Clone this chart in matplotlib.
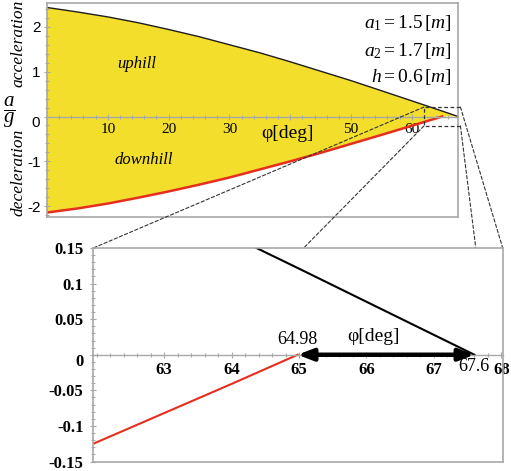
import numpy as np
import matplotlib
matplotlib.use("Agg")
import matplotlib.pyplot as plt
from matplotlib.patches import ConnectionPatch
from matplotlib.ticker import MultipleLocator

plt.rcParams['mathtext.fontset'] = 'custom'
plt.rcParams['mathtext.it'] = 'Liberation Serif:italic'
plt.rcParams['mathtext.rm'] = 'Liberation Serif'
plt.rcParams['mathtext.bf'] = 'Liberation Serif:bold'

# values (a/g against phi in degrees)
phi_up = [0, 5, 10, 15, 20, 25, 30, 35, 40, 45, 50, 55, 60, 62, 64, 65, 67.6]
acc_up = [2.43, 2.33, 2.22, 2.09, 1.94, 1.78, 1.60, 1.42, 1.22, 1.01, 0.80,
          0.575, 0.349, 0.258, 0.167, 0.121, 0.0]
phi_down = [0, 5, 10, 15, 20, 25, 30, 35, 40, 45, 50, 55, 60, 62, 64, 64.98]
acc_down = [-2.14, -2.05, -1.94, -1.81, -1.67, -1.52, -1.36, -1.18, -1.00,
            -0.81, -0.61, -0.41, -0.206, -0.123, -0.041, 0.0]

top_xticks = [10, 20, 30, 40, 50, 60]
top_xlabels = ['10', '20', '30', '', '50', '60']
top_yticks = [-2, -1, 0, 1, 2]
bot_xticks = [63, 64, 65, 66, 67, 68]
bot_yticks = [-0.15, -0.1, -0.05, 0, 0.05, 0.1, 0.15]
zoom_x = (62, 68)
zoom_y = (-0.21, 0.21)
params = [r'$a_1 = \mathit{1.5}\,[m]$', r'$a_2 = \mathit{1.7}\,[m]$', r'$h = \mathit{0.6}\,[m]$']

gray = '#a8a8a8'
yellow = '#f4de2c'
red = '#e62e1e'
serif = 'Liberation Serif'

W, H = 511, 471
fig = plt.figure(figsize=(W / 100, H / 100), dpi=100)
ax1 = fig.add_axes([47 / W, 1 - 217 / H, (458 - 47) / W, (217 - 3) / H])
ax2 = fig.add_axes([93.3 / W, 1 - 461.5 / H, (502.7 - 93.3) / W, (461.5 - 248) / H])
ax1.set_zorder(0)
ax2.set_zorder(2)


def style_axes(ax):
    for s in ['left', 'right', 'top']:
        ax.spines[s].set_color(gray)
        ax.spines[s].set_linewidth(1.2)
    ax.spines['bottom'].set_position(('data', 0))
    ax.spines['bottom'].set_color(gray)
    ax.spines['bottom'].set_linewidth(1.0)
    ax.plot([0, 1], [0, 0], transform=ax.transAxes, color=gray, lw=1.2,
            clip_on=False, zorder=5)
    ax.tick_params(which='both', direction='inout', color=gray, width=0.8)
    ax.tick_params(which='major', length=4)
    ax.tick_params(which='minor', length=2.5)


# ---- top chart
ax1.fill(np.concatenate([phi_up, phi_down[::-1]]),
         np.concatenate([acc_up, acc_down[::-1]]), color=yellow, lw=0)
ax1.plot(phi_up, acc_up, color='#1e1e1e', lw=1.0)
ax1.plot(phi_down, acc_down, color=red, lw=1.8)
ax1.set_xlim(0, 67.6)
ax1.set_ylim(-2.24, 2.53)
style_axes(ax1)
ax1.set_xticks(top_xticks, top_xlabels)
ax1.xaxis.set_minor_locator(MultipleLocator(2))
ax1.set_yticks(top_yticks, ['' if t == 0 else str(t) for t in top_yticks])
ax1.yaxis.set_minor_locator(MultipleLocator(0.2))
ax1.tick_params(axis='x', labelsize=11, pad=3)
ax1.tick_params(axis='y', labelsize=11, pad=2.5)
for lab in ax1.get_xticklabels():
    lab.set_family(serif)
for lab in ax1.get_yticklabels():
    lab.set_family('Liberation Sans')
ax1.annotate('0', xy=(0, 0), xycoords=('axes fraction', 'data'), xytext=(-5, -5),
             textcoords='offset points', ha='right', va='center',
             family='Liberation Sans', fontsize=11)

ax1.text(14.8, 1.18, 'uphill', family=serif, style='italic', fontsize=12,
         ha='center', va='center')
ax1.text(15.9, -0.98, 'downhill', family=serif, style='italic', fontsize=12,
         ha='center', va='center')
ax1.text(39.5, -0.38, 'φ[deg]', family=serif, fontsize=14, ha='center', va='center')
for txt, y in zip(params, [2.09, 1.47, 0.87]):
    ax1.text(66.6, y, txt, fontsize=14, ha='right', va='center')

fig.text(18 / W, 1 - 43 / H, 'acceleration', rotation=90, family=serif,
         style='italic', fontsize=12.5, ha='center', va='center')
fig.text(18 / W, 1 - 172 / H, 'deceleration', rotation=90, family=serif,
         style='italic', fontsize=12.5, ha='center', va='center')
fig.text(9 / W, 1 - 112 / H, r'$\dfrac{a}{g}$', fontsize=15, ha='center', va='center')

# dashed zoom box
ax1.plot([zoom_x[1], zoom_x[0], zoom_x[0], zoom_x[1]],
         [zoom_y[1], zoom_y[1], zoom_y[0], zoom_y[0]],
         color='#333333', lw=0.9, ls=(0, (3, 2)), clip_on=False, zorder=6)

# ---- bottom chart (zoom)
ax2.set_facecolor('white')
ax2.plot(phi_up, acc_up, color='black', lw=1.5)
ax2.plot(phi_down, acc_down, color=red, lw=1.5)
ax2.set_xlim(61.95, 68.02)
ax2.set_ylim(-0.15, 0.15)
style_axes(ax2)
ax2.set_xticks(bot_xticks, [str(t) for t in bot_xticks])
ax2.xaxis.set_minor_locator(MultipleLocator(0.2))
ax2.set_yticks(bot_yticks, ['' if t == 0 else f'{t:g}' for t in bot_yticks])
ax2.yaxis.set_minor_locator(MultipleLocator(0.01))
ax2.tick_params(axis='x', labelsize=12, pad=3)
ax2.tick_params(axis='y', labelsize=12, pad=5)
for lab in ax2.get_xticklabels() + ax2.get_yticklabels():
    lab.set_family(serif)
    lab.set_weight('bold')
ax2.annotate('0', xy=(0, 0), xycoords=('axes fraction', 'data'), xytext=(-7, -5),
             textcoords='offset points', ha='right', va='center',
             family=serif, weight='bold', fontsize=12)

ax2.annotate('', xy=(phi_down[-1], 0), xytext=(phi_up[-1], 0),
             arrowprops=dict(arrowstyle='<|-|>,head_length=0.9,head_width=0.35',
                             lw=3.2, color='black', shrinkA=0, shrinkB=0),
             zorder=7)
ax2.text(phi_down[-1], 0.021, '64.98', family=serif, fontsize=13,
         ha='center', va='center')
ax2.text(phi_up[-1], -0.0167, '67.6', family=serif, fontsize=13,
         ha='center', va='center', zorder=8)
ax2.text(66.1, 0.025, 'φ[deg]', family=serif, fontsize=14, ha='center', va='center')

# lines from the zoom box to the bottom chart
for xa, ya, xb, yb in [(zoom_x[0], zoom_y[1], 0, 1), (zoom_x[0], zoom_y[0], 0, 0),
                       (zoom_x[1], zoom_y[1], 1, 1), (zoom_x[1], zoom_y[0], 1, 0)]:
    con = ConnectionPatch(xyA=(xa, ya), coordsA=ax1.transData,
                          xyB=(xb, yb), coordsB=ax2.transAxes,
                          color='#333333', lw=0.8, ls=(0, (3, 2)))
    con.set_zorder(1)
    fig.add_artist(con)

fig.savefig('out.png', dpi=100)
